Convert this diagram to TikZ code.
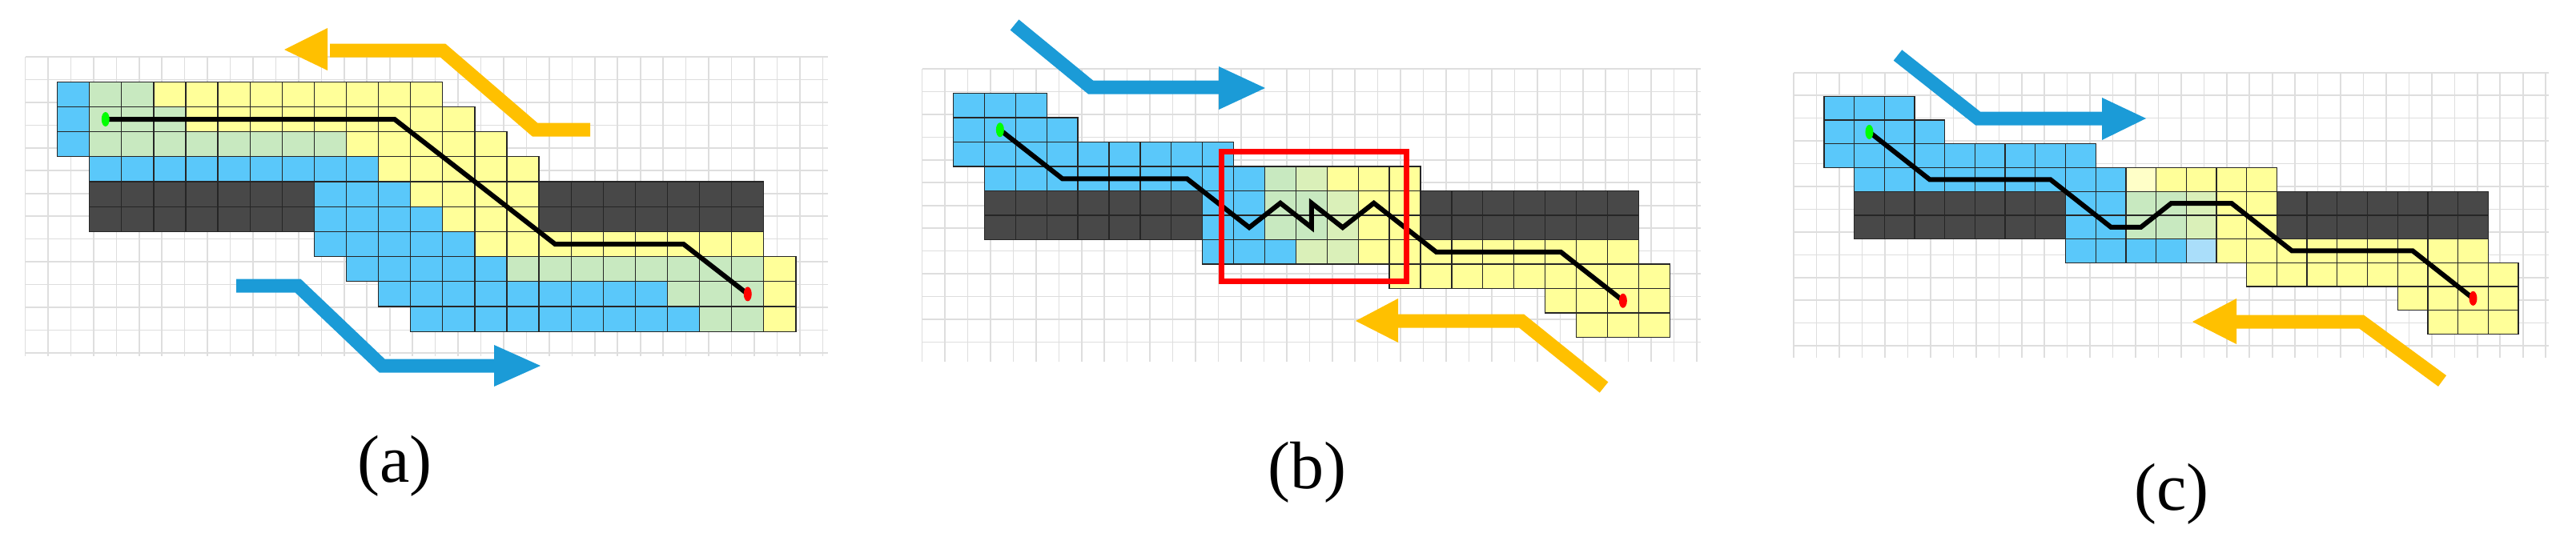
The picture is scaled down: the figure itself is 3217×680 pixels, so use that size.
\documentclass[tikz,border=0pt]{standalone}
\usepackage{fontspec}
\setmainfont{Liberation Serif}
\definecolor{cB}{RGB}{90,200,250}
\definecolor{cLB}{RGB}{170,222,250}
\definecolor{cG}{RGB}{200,233,192}
\definecolor{cPG}{RGB}{218,240,185}
\definecolor{cY}{RGB}{255,255,153}
\definecolor{cPY}{RGB}{255,255,200}
\definecolor{cD}{RGB}{72,72,72}
\definecolor{arB}{RGB}{27,155,215}
\definecolor{arO}{RGB}{255,192,0}
\newcommand\cellrow[4]{\foreach \cc in {#2,...,#3}{\filldraw[cellst,fill=#4] (\cc,#1) rectangle ++(1,1);}}
\tikzset{
 gridst/.style={draw=black!13,line width=1.6pt},
 cellst/.style={draw=black!85,line width=1.3pt},
 pathst/.style={draw=black,line width=6pt,line join=miter},
 arrowbody/.style={line width=17pt,line join=miter},
 lbl/.style={font=\fontsize{84}{90}\selectfont,inner sep=0pt}
}
\begin{document}
\begin{tikzpicture}[x=1pt,y=-1pt]
\useasboundingbox (0,0) rectangle (3217,680);
% ---------- panel a ----------
\begin{scope}[shift={(31.5,71)},x=40.1pt,y=-31.2pt]
\draw[gridst] (0,0) grid (25,12);
\cellrow{1}{1}{1}{cB}\cellrow{1}{2}{3}{cG}\cellrow{1}{4}{12}{cY}
\cellrow{2}{1}{1}{cB}\cellrow{2}{2}{4}{cG}\cellrow{2}{5}{13}{cY}
\cellrow{3}{1}{1}{cB}\cellrow{3}{2}{9}{cG}\cellrow{3}{10}{14}{cY}
\cellrow{4}{2}{10}{cB}\cellrow{4}{11}{15}{cY}
\cellrow{5}{2}{8}{cD}\cellrow{5}{9}{11}{cB}\cellrow{5}{12}{15}{cY}\cellrow{5}{16}{22}{cD}
\cellrow{6}{2}{8}{cD}\cellrow{6}{9}{12}{cB}\cellrow{6}{13}{15}{cY}\cellrow{6}{16}{22}{cD}
\cellrow{7}{9}{13}{cB}\cellrow{7}{14}{22}{cY}
\cellrow{8}{10}{14}{cB}\cellrow{8}{15}{22}{cG}\cellrow{8}{23}{23}{cY}
\cellrow{9}{11}{19}{cB}\cellrow{9}{20}{22}{cG}\cellrow{9}{23}{23}{cY}
\cellrow{10}{12}{20}{cB}\cellrow{10}{21}{22}{cG}\cellrow{10}{23}{23}{cY}
\coordinate (sa) at (2.5,2.5); \coordinate (ga) at (22.5,9.5);
\draw[pathst] (sa) -- (11.5,2.5) -- (16.5,7.5) -- (20.5,7.5) -- (ga);
\fill[green] (sa) ellipse[x radius=5pt,y radius=9pt];
\fill[red] (ga) ellipse[x radius=5pt,y radius=9pt];
\end{scope}
% ---------- panel b ----------
\begin{scope}[shift={(1151.6,86)},x=38.9pt,y=-30.5pt]
\draw[gridst] (0,0) grid (25,12);
\cellrow{1}{1}{3}{cB}
\cellrow{2}{1}{4}{cB}
\cellrow{3}{1}{9}{cB}
\cellrow{4}{2}{10}{cB}\cellrow{4}{11}{11}{cG}\cellrow{4}{12}{12}{cPG}\cellrow{4}{13}{15}{cY}
\foreach \r in {5,6}{\cellrow{\r}{2}{8}{cD}\cellrow{\r}{9}{10}{cB}\cellrow{\r}{11}{12}{cG}\cellrow{\r}{13}{13}{cPG}\cellrow{\r}{14}{15}{cY}\cellrow{\r}{16}{22}{cD}}
\cellrow{7}{9}{11}{cB}\cellrow{7}{12}{13}{cPG}\cellrow{7}{14}{22}{cY}
\cellrow{8}{15}{23}{cY}
\cellrow{9}{20}{23}{cY}
\cellrow{10}{21}{23}{cY}
\coordinate (sb) at (2.5,2.5); \coordinate (gb) at (22.5,9.5);
\draw[pathst] (sb) -- (4.5,4.5) -- (8.5,4.5) -- (10.5,6.5) -- (11.5,5.5) -- (12.5,6.5) -- (12.5,5.5) -- (13.5,6.5) -- (14.5,5.5) -- (16.5,7.5) -- (20.5,7.5) -- (gb);
\fill[green] (sb) ellipse[x radius=5pt,y radius=9pt];
\fill[red] (gb) ellipse[x radius=5pt,y radius=9pt];
\draw[red,line width=7pt] (9.6,3.4) rectangle (15.55,8.72);
\end{scope}
% ---------- panel c ----------
\begin{scope}[shift={(2240.2,90.7)},x=37.7pt,y=-29.7pt]
\draw[gridst] (0,0) grid (25,12);
\cellrow{1}{1}{3}{cB}
\cellrow{2}{1}{4}{cB}
\cellrow{3}{1}{9}{cB}
\cellrow{4}{2}{10}{cB}\cellrow{4}{11}{11}{cPY}\cellrow{4}{12}{15}{cY}
\foreach \r in {5,6}{\cellrow{\r}{2}{8}{cD}\cellrow{\r}{9}{10}{cB}\cellrow{\r}{11}{12}{cG}\cellrow{\r}{13}{13}{cPG}\cellrow{\r}{14}{15}{cY}\cellrow{\r}{16}{22}{cD}}
\cellrow{7}{9}{12}{cB}\cellrow{7}{13}{13}{cLB}\cellrow{7}{14}{22}{cY}
\cellrow{8}{15}{23}{cY}
\cellrow{9}{20}{23}{cY}
\cellrow{10}{21}{23}{cY}
\coordinate (sc) at (2.5,2.5); \coordinate (gc) at (22.5,9.5);
\draw[pathst] (sc) -- (4.5,4.5) -- (8.5,4.5) -- (10.5,6.5) -- (11.5,6.5) -- (12.5,5.5) -- (14.5,5.5) -- (16.5,7.5) -- (20.5,7.5) -- (gc);
\fill[green] (sc) ellipse[x radius=5pt,y radius=9pt];
\fill[red] (gc) ellipse[x radius=5pt,y radius=9pt];
\end{scope}
% ---------- arrows ----------
\draw[arrowbody,arO] (737,162) -- (668,162) -- (553,63) -- (412,63);
\fill[arO] (409,35) -- (355,62) -- (409,88) -- cycle;
\draw[arrowbody,arB] (295,357) -- (372,357) -- (477,457) -- (620,457);
\fill[arB] (617,431) -- (675,457) -- (617,483) -- cycle;
\draw[arrowbody,arB] (1267,31) -- (1362,109) -- (1525,109);
\fill[arB] (1522,83) -- (1580,110) -- (1522,137) -- cycle;
\draw[arrowbody,arO] (2003,484) -- (1900,401) -- (1743,401);
\fill[arO] (1746,373) -- (1693,401) -- (1746,428) -- cycle;
\draw[arrowbody,arB] (2370,69) -- (2470,148) -- (2628,148);
\fill[arB] (2625,122) -- (2680,148) -- (2625,175) -- cycle;
\draw[arrowbody,arO] (3050,476) -- (2949,402) -- (2790,402);
\fill[arO] (2793,373) -- (2738,402) -- (2793,430) -- cycle;
% ---------- labels ----------
\node[lbl] (la) at (493,582) {(a)};
\node[lbl] (lb) at (1632,590) {(b)};
\node[lbl] (lc) at (2712,617) {(c)};
\end{tikzpicture}
\end{document}
